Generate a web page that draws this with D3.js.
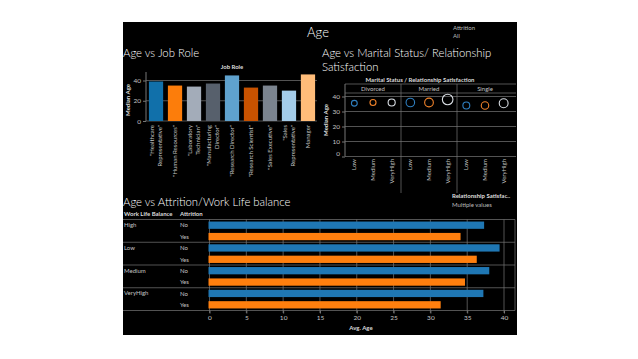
<!DOCTYPE html>
<html>
<head>
<meta charset="utf-8">
<script src="https://cdn.jsdelivr.net/npm/d3@7"></script>
<style>
  body { margin: 0; background: #fff; }
  svg { display: block; font-family: Lato, "Open Sans", sans-serif; }
  .title { font-weight: 300; }
</style>
</head>
<body>
<div id="container"></div>
<script>
/* DATA */
const jobRoles = ["Healthcare Representative", "Human Resources", "Laboratory Technician",
  "Manufacturing Director", "Research Director", "Research Scientist",
  "Sales Executive", "Sales Representative", "Manager"];
const jobLabels = [['"Healthcare', 'Representative"'], ['"Human Resources"'], ['"Laboratory', 'Technician"'],
  ['"Manufacturing', 'Director"'], ['"Research Director"'], ['"Research Scientist"'],
  ['"Sales Executive"'], ['"Sales', 'Representative"'], ['Manager']];
const jobMedianAge = [39, 35, 34, 37, 45, 33, 35, 30, 46];
const jobColors = ["#1170aa", "#fc7d0b", "#a3acb9", "#57606c", "#5fa2ce", "#c85200", "#7b848f", "#a3cce9", "#ffbc79"];

const maritalStatus = ["Divorced", "Married", "Single"];
const relSatisfaction = ["Low", "Medium", "VeryHigh"];
const maritalMedianAge = [[35.5, 36, 36], [36, 36, 38], [34, 34, 35.5]];
const maritalCount = [[60, 65, 90], [130, 135, 200], [85, 100, 140]];
const satColors = ["#2f7fc0", "#f0822a", "#d8dde3"];

const wlbGroups = ["High", "Low", "Medium", "VeryHigh"];
const attrition = ["No", "Yes"];
const avgAge = [[37.3, 34.1], [39.4, 36.3], [38.0, 34.7], [37.2, 31.4]];
const attrColors = ["#1f77b4", "#ff7f0e"];

/* CONSTANTS */
const width = 638, height = 359;
const grid = "#777";
const labelColor = "#c4c4c4";

const svg = d3.select("#container").append("svg")
  .attr("width", width).attr("height", height);

// dashboard background
svg.append("rect").attr("x", 123).attr("y", 22).attr("width", 394).attr("height", 313).attr("fill", "#000");

svg.append("text").attr("class", "title").attr("x", 318).attr("y", 37).attr("text-anchor", "middle")
  .attr("fill", "#fff").attr("font-size", 13).text("Age");
svg.append("text").attr("x", 453).attr("y", 30).attr("fill", "#bbb").attr("font-size", 6).text("Attrition");
svg.append("text").attr("x", 453).attr("y", 38).attr("fill", "#bbb").attr("font-size", 6).text("All");

/* AGE VS JOB ROLE */
svg.append("text").attr("class", "title").attr("x", 123).attr("y", 57).attr("fill", "#fff").attr("font-size", 11.3).text("Age vs Job Role");
svg.append("text").attr("x", 232).attr("y", 69).attr("text-anchor", "middle")
  .attr("fill", "#ddd").attr("font-size", 6).attr("font-weight", "bold").text("Job Role");

const xJob = d3.scaleBand().domain(jobRoles).range([147, 317]).paddingInner(0.25).paddingOuter(0.1);
const yJob = d3.scaleLinear().domain([0, 40]).range([121, 80.5]);

svg.append("g").selectAll("line").data([0, 20, 40]).join("line")
  .attr("x1", 146).attr("x2", 317)
  .attr("y1", d => yJob(d)).attr("y2", d => yJob(d))
  .attr("stroke", grid).attr("stroke-width", 0.7);

const yJobAxis = svg.append("g").attr("transform", "translate(146,0)")
  .call(d3.axisLeft(yJob).tickValues([0, 20, 40]).tickSize(3).tickPadding(2));
yJobAxis.select(".domain").attr("stroke", grid).attr("d", "M0,72V121");
yJobAxis.selectAll(".tick line").attr("stroke", grid);
yJobAxis.selectAll(".tick text").attr("fill", labelColor).attr("font-size", 6.5).attr("font-family", "Lato, sans-serif");

svg.append("text").attr("transform", "translate(130,100) rotate(-90)").attr("text-anchor", "middle")
  .attr("fill", "#ddd").attr("font-size", 6).attr("font-weight", "bold").text("Median Age");

svg.append("g").selectAll("rect").data(jobRoles).join("rect")
  .attr("x", d => xJob(d)).attr("width", xJob.bandwidth())
  .attr("y", (d, i) => yJob(jobMedianAge[i]))
  .attr("height", (d, i) => yJob(0) - yJob(jobMedianAge[i]))
  .attr("fill", (d, i) => jobColors[i]);

const jobLab = svg.append("g").selectAll("text").data(jobRoles).join("text")
  .attr("transform", d => `translate(${xJob(d) + xJob.bandwidth() / 2},125) rotate(-90)`)
  .attr("text-anchor", "end").attr("fill", labelColor).attr("font-size", 6);
jobLab.each(function (d, i) {
  const lines = jobLabels[i];
  d3.select(this).selectAll("tspan").data(lines).join("tspan")
    .attr("x", 0)
    .attr("y", (l, j) => (j - (lines.length - 1) / 2) * 8 + 2.2)
    .text(l => l);
});

/* AGE VS MARITAL STATUS */
svg.append("text").attr("class", "title").attr("x", 322).attr("y", 57).attr("fill", "#fff").attr("font-size", 11.3).text("Age vs Marital Status/ Relationship");
svg.append("text").attr("class", "title").attr("x", 322).attr("y", 71).attr("fill", "#fff").attr("font-size", 11.3).text("Satisfaction");
svg.append("text").attr("x", 420).attr("y", 82).attr("text-anchor", "middle")
  .attr("fill", "#ddd").attr("font-size", 6).attr("font-weight", "bold").text("Marital Status / Relationship Satisfaction");

const xMar = d3.scaleBand().domain(maritalStatus).range([345, 513]);
const xSat = d3.scaleBand().domain(relSatisfaction).range([0, xMar.bandwidth()]);
const yMar = d3.scaleLinear().domain([0, 40]).range([156.5, 96.5]);
const rMar = d3.scaleSqrt().domain([0, 200]).range([0, 5.3]);

// header lines
svg.append("g").selectAll("line").data([84, 93]).join("line")
  .attr("x1", 345).attr("x2", 516).attr("y1", d => d).attr("y2", d => d)
  .attr("stroke", grid).attr("stroke-width", 0.7);
svg.append("g").selectAll("text").data(maritalStatus).join("text")
  .attr("x", d => xMar(d) + xMar.bandwidth() / 2).attr("y", 91)
  .attr("text-anchor", "middle").attr("fill", labelColor).attr("font-size", 6).text(d => d);

svg.append("g").selectAll("line").data([0, 10, 20, 30, 40]).join("line")
  .attr("x1", 345).attr("x2", 516).attr("y1", d => yMar(d)).attr("y2", d => yMar(d))
  .attr("stroke", grid).attr("stroke-width", 0.7);
svg.append("g").selectAll("line").data(maritalStatus.slice(1)).join("line")
  .attr("x1", d => xMar(d)).attr("x2", d => xMar(d)).attr("y1", 84).attr("y2", 193)
  .attr("stroke", grid).attr("stroke-width", 0.7);

const yMarAxis = svg.append("g").attr("transform", "translate(345,0)")
  .call(d3.axisLeft(yMar).tickValues([0, 10, 20, 30, 40]).tickSize(3).tickPadding(2));
yMarAxis.select(".domain").attr("stroke", grid).attr("d", "M0,84V156.5");
yMarAxis.selectAll(".tick line").attr("stroke", grid);
yMarAxis.selectAll(".tick text").attr("fill", labelColor).attr("font-size", 6.5).attr("font-family", "Lato, sans-serif");
yMarAxis.selectAll(".tick").filter(d => d === 0).select("text").attr("dy", "-0.2em");

svg.append("text").attr("transform", "translate(328,120) rotate(-90)").attr("text-anchor", "middle")
  .attr("fill", "#ddd").attr("font-size", 6).attr("font-weight", "bold").text("Median Age");

const marPoints = [];
maritalStatus.forEach((m, i) => relSatisfaction.forEach((s, j) =>
  marPoints.push({ m, s, j, age: maritalMedianAge[i][j], n: maritalCount[i][j] })));

svg.append("g").selectAll("circle").data(marPoints).join("circle")
  .attr("cx", d => xMar(d.m) + xSat(d.s) + xSat.bandwidth() / 2)
  .attr("cy", d => yMar(d.age))
  .attr("r", d => rMar(d.n))
  .attr("fill", "none").attr("stroke", d => satColors[d.j]).attr("stroke-width", 1.1);

svg.append("g").selectAll("text").data(marPoints).join("text")
  .attr("transform", d => `translate(${xMar(d.m) + xSat(d.s) + xSat.bandwidth() / 2 + 2.1},159) rotate(-90)`)
  .attr("text-anchor", "end").attr("fill", labelColor).attr("font-size", 6).text(d => d.s);

svg.append("text").attr("x", 452).attr("y", 198).attr("fill", "#ddd").attr("font-size", 6)
  .attr("font-weight", "bold").text("Relationship Satisfac..");
svg.append("text").attr("x", 452).attr("y", 207).attr("fill", "#bbb").attr("font-size", 6).text("Multiple values");

/* AGE VS ATTRITION / WORK LIFE BALANCE */
svg.append("text").attr("class", "title").attr("x", 123).attr("y", 206).attr("fill", "#fff").attr("font-size", 11.3).text("Age vs Attrition/Work Life balance");
svg.append("text").attr("x", 124).attr("y", 216).attr("fill", "#ddd").attr("font-size", 6).attr("font-weight", "bold").text("Work Life Balance");
svg.append("text").attr("x", 180).attr("y", 216).attr("fill", "#ddd").attr("font-size", 6).attr("font-weight", "bold").text("Attrition");

const yWlb = d3.scaleBand().domain(wlbGroups).range([219.5, 310.5]);
const yAttr = d3.scaleBand().domain(attrition).range([0, yWlb.bandwidth()]).paddingInner(0.36).paddingOuter(0.18);
const xAge = d3.scaleLinear().domain([0, 40]).range([209.5, 504]);

// vertical gridlines
svg.append("g").selectAll("line").data(d3.range(0, 41, 5)).join("line")
  .attr("x1", d => xAge(d)).attr("x2", d => xAge(d)).attr("y1", 219.5).attr("y2", 313)
  .attr("stroke", grid).attr("stroke-width", 0.7);

// group dividers
svg.append("g").selectAll("line").data(wlbGroups).join("line")
  .attr("x1", 123).attr("x2", 515).attr("y1", d => yWlb(d)).attr("y2", d => yWlb(d))
  .attr("stroke", grid).attr("stroke-width", 0.7);
svg.append("line").attr("x1", 123).attr("x2", 515).attr("y1", 310.5).attr("y2", 310.5)
  .attr("stroke", grid).attr("stroke-width", 0.7);
svg.append("line").attr("x1", 515).attr("x2", 515).attr("y1", 219.5).attr("y2", 310.5)
  .attr("stroke", grid).attr("stroke-width", 0.7);

const wlbRows = [];
wlbGroups.forEach((g, i) => attrition.forEach((a, j) => wlbRows.push({ g, a, j, v: avgAge[i][j] })));

svg.append("g").selectAll("rect").data(wlbRows).join("rect")
  .attr("x", xAge(0) - 1).attr("width", d => xAge(d.v) - xAge(0) + 1)
  .attr("y", d => yWlb(d.g) + yAttr(d.a)).attr("height", yAttr.bandwidth())
  .attr("fill", d => attrColors[d.j]);

svg.append("g").selectAll("text").data(wlbGroups).join("text")
  .attr("x", 124).attr("y", d => yWlb(d) + 7.5)
  .attr("fill", labelColor).attr("font-size", 6).text(d => d);
svg.append("g").selectAll("text").data(wlbRows).join("text")
  .attr("x", 180).attr("y", d => yWlb(d.g) + yAttr(d.a) + yAttr.bandwidth() / 2 + 2.2)
  .attr("fill", labelColor).attr("font-size", 6).text(d => d.a);

const xAgeAxis = svg.append("g").attr("transform", "translate(0,310.5)")
  .call(d3.axisBottom(xAge).tickValues(d3.range(0, 41, 5)).tickSize(3).tickPadding(2));
xAgeAxis.select(".domain").remove();
xAgeAxis.selectAll(".tick line").attr("stroke", grid);
xAgeAxis.selectAll(".tick text").attr("fill", labelColor).attr("font-size", 6.5).attr("font-family", "Lato, sans-serif");

svg.append("text").attr("x", 361).attr("y", 330).attr("text-anchor", "middle")
  .attr("fill", "#ddd").attr("font-size", 6).attr("font-weight", "bold").text("Avg. Age");
</script>
</body>
</html>
